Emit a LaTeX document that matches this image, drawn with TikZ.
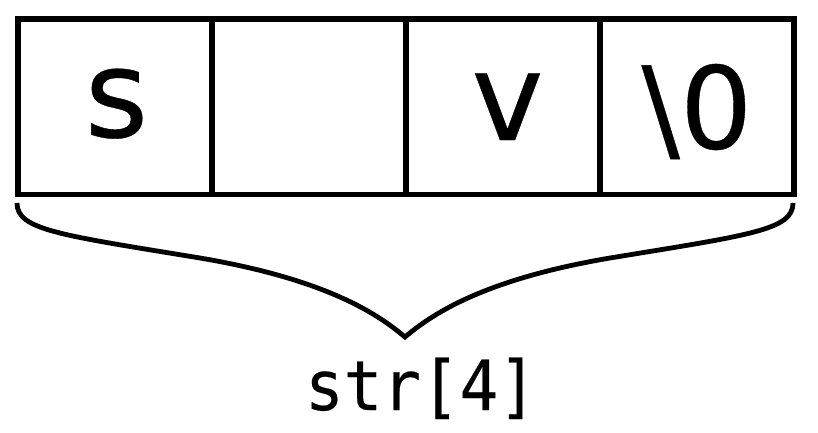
\documentclass[tikz,border=0pt]{standalone}
\usepackage{fontspec}
\setmainfont{DejaVu Sans}
\newfontfamily\cellfnt[FakeBold=0.3]{DejaVu Sans}
\newfontfamily\monofnt[FakeStretch=0.93,FakeBold=0.3]{DejaVu Sans Mono}
\begin{document}
\begin{tikzpicture}[x=1pt,y=-1pt,
  cellbox/.style={draw=black,line width=5.5pt,minimum width=194pt,minimum height=175.5pt,inner sep=0pt,outer sep=0pt,anchor=north west},
  glyph/.style={inner sep=0pt,anchor=base},
  bracestroke/.style={draw=black,line width=4.8pt,line join=miter}]
\useasboundingbox (0,0) rectangle (818,432);
\node[cellbox] (c1) at (18,19) {};
\node[cellbox] (c2) at (212,19) {};
\node[cellbox] (c3) at (406,19) {};
\node[cellbox] (c4) at (600,19) {};
\node[glyph,font=\cellfnt\fontsize{122}{130}\selectfont] (t1) at (116.5,137) {s};
\node[glyph,font=\cellfnt\fontsize{122}{130}\selectfont] (t3) at (507.5,140) {v};
\node[glyph,font=\cellfnt\fontsize{114}{120}\selectfont] (t4) at (697,148.5) {\textbackslash 0};
\coordinate (bl) at (17,203);
\coordinate (br) at (793,203);
\coordinate (tip) at (405,337);
\draw[bracestroke] (bl) .. controls (17,230) and (60,235) .. (200,258)
  .. controls (330,280) and (380,316) .. (tip)
  .. controls (430,316) and (480,280) .. (610,258)
  .. controls (750,235) and (793,230) .. (br);
\node[font=\monofnt\fontsize{69}{75}\selectfont,anchor=base,inner sep=0pt] (lbl) at (421,410) {str[4]};
\end{tikzpicture}
\end{document}
